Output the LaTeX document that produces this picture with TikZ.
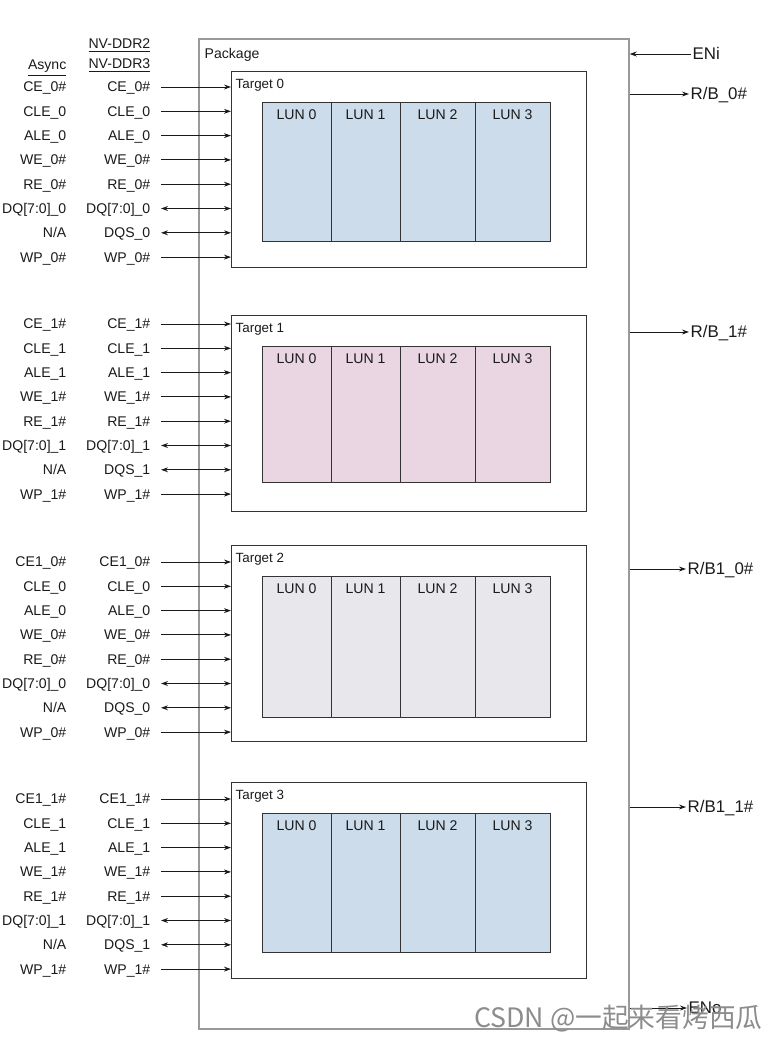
\documentclass[tikz,border=0pt]{standalone}
\usepackage{fontspec}
\setmainfont{Liberation Sans}
\newfontfamily\cjk{Noto Sans CJK SC}
\usepackage{tikz}
\usetikzlibrary{arrows.meta, positioning}
\definecolor{lunblue}{HTML}{CCDCEA}
\definecolor{lunpink}{HTML}{EAD6E2}
\definecolor{lungray}{HTML}{E8E8EC}
\definecolor{ink}{HTML}{1A1A1A}
\tikzstyle{pkgbox} = [rectangle, draw=black!40, line width=1.1pt, anchor=north west, inner sep=0pt]
\tikzstyle{tgtbox} = [rectangle, draw=black!80, line width=0.7pt, anchor=north west, inner sep=0pt, minimum width=8.875cm, minimum height=4.9cm]
\tikzstyle{lun} = [rectangle, draw=black!80, line width=0.7pt, anchor=north west, inner sep=0pt]
\tikzstyle{sig} = [inner sep=1pt, anchor=east, text height=8.5pt, text depth=1.5pt, font=\fontsize{10}{12}\selectfont, text=ink]
\tikzstyle{pin} = [inner sep=1pt, anchor=west, text height=10pt, text depth=1.5pt, font=\fontsize{12}{14}\selectfont, text=ink]
\tikzstyle{arrow} = [line width=0.65pt, draw=ink, -{Stealth[length=5pt,width=3.5pt]}]
\tikzstyle{sigin} = [arrow, shorten <=6.4pt]
\tikzstyle{dqs} = [arrow, {Stealth[length=5pt,width=3.5pt]}-{Stealth[length=5pt,width=3.5pt]}, shorten <=6.4pt]
\tikzstyle{dqbus} = [dqs, line width=1.1pt]

\begin{document}
\begin{tikzpicture}[x=0.025cm, y=-0.025cm]
    \useasboundingbox (0,0) rectangle (778,1040);

    % package outline
    \node[pkgbox, minimum width=10.75cm, minimum height=24.75cm] (pkg) at (198,38) {};
    \node[sig, anchor=west] (pkgl) at (203,54) {Package};

    % column headers
    \node[sig] (nv2) at (152,44) {\underline{NV-DDR2}};
    \node[sig] (nv3) at (152,64) {\underline{NV-DDR3}};
    \node[sig] (async) at (68,65) {\underline{Async}};

    % targets, LUNs and their signals
    \foreach \i/\ty/\y/\ce/\n/\col/\h in {0/71/87/CE\_0\#/0/lunblue/139,
                                           1/315/324/CE\_1\#/1/lunpink/136,
                                           2/545/562/CE1\_0\#/0/lungray/141,
                                           3/782/799/CE1\_1\#/1/lunblue/139}{
        \node[tgtbox] (t\i) at (231,\ty) {};
        \node[sig, anchor=west, font=\fontsize{9.5}{11}\selectfont] (tl\i) at (234,\ty+13) {Target \i};

        \foreach \k/\x/\w in {0/262/69, 1/331/69, 2/400/75, 3/475/75}{
            \node[lun, fill=\col, minimum width=\w*0.025cm, minimum height=\h*0.025cm] (l\i\k) at (\x,\ty+31) {};
            \node[sig, anchor=center] (ll\i\k) at (\x+\w/2,\ty+44) {LUN \k};
        }

        \foreach \r/\a/\b/\s in {0/\ce/\ce/sigin, 1/CLE\_\n/CLE\_\n/sigin, 2/ALE\_\n/ALE\_\n/sigin,
                                 3/WE\_\n\#/WE\_\n\#/sigin, 4/RE\_\n\#/RE\_\n\#/sigin,
                                 5/DQ[7:0]\_\n/DQ[7:0]\_\n/dqbus, 6/{N/A}/DQS\_\n/dqs,
                                 7/WP\_\n\#/WP\_\n\#/sigin}{
            \node[sig] (a\i\r) at (68,\y+\r*24.3) {\a};
            \node[sig] (b\i\r) at (152,\y+\r*24.3) {\b};
            \draw[\s] (b\i\r.east) -- (b\i\r.east -| t\i.west);
        }
    }

    % enable and ready/busy pins
    \node[pin] (eni) at (691,54) {ENi};
    \node[pin] (rb0) at (689,94) {R/B\_0\#};
    \node[pin] (rb1) at (689,332) {R/B\_1\#};
    \node[pin] (rb2) at (686,569) {R/B1\_0\#};
    \node[pin] (rb3) at (686,807) {R/B1\_1\#};
    \node[pin] (eno) at (687,1008) {ENo};

    \draw[arrow] (eni.west) -- (eni.west -| pkg.east);
    \draw[arrow] (rb0.west -| pkg.east) -- (rb0.west);
    \draw[arrow] (rb1.west -| pkg.east) -- (rb1.west);
    \draw[arrow] (rb2.west -| pkg.east) -- (rb2.west);
    \draw[arrow] (rb3.west -| pkg.east) -- (rb3.west);
    \draw[arrow] (eno.west -| pkg.east) -- (eno.west);

    \node[anchor=west, inner sep=0pt, text=black!45, font=\cjk\fontsize{19}{21}\selectfont] (wm) at (474,1019) {CSDN @一起来看烤西瓜};
\end{tikzpicture}
\end{document}
